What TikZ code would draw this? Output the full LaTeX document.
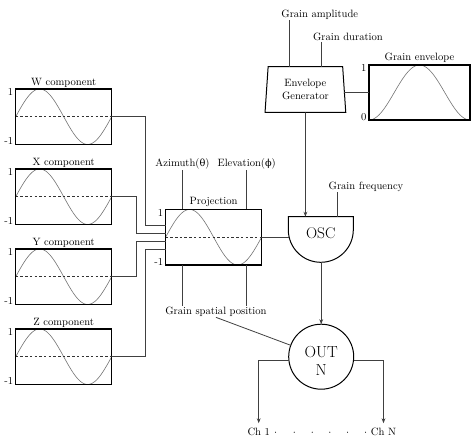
\documentclass[tikz,border=0pt]{standalone}
\usepackage{fontspec}
\newfontfamily\grk{DejaVu Serif}[Scale=0.92]
\usetikzlibrary{arrows.meta,shapes.geometric,calc}
\begin{document}
\begin{tikzpicture}[x=1pt,y=-1pt,
  lbl/.style={font=\fontsize{10.6}{13.3}\selectfont, inner sep=1pt, outer sep=0pt},
  box/.style={draw=black, line width=1.2pt, minimum width=96pt, minimum height=55.5pt, inner sep=0pt, outer sep=0pt},
  wave/.style={draw=black!55, line width=0.6pt},
  midline/.style={draw=black!80, line width=0.7pt, dash pattern=on 2.5pt off 2.2pt},
  conn/.style={draw=black!75, line width=0.8pt},
  arr/.style={conn, -{Stealth[length=5pt,width=3.8pt]}},
  blk/.style={draw=black, line width=1pt},
  big/.style={font=\fontsize{15.5}{18.3}\selectfont, inner sep=0pt, align=center}
]
\useasboundingbox (0,0) rectangle (474,445);

% ---- component boxes ----
\foreach \n/\yy in {W/116.7, X/196.7, Y/276.7, Z/356.7} {
  \draw[wave] plot[domain=0:96, samples=90, smooth] ({15.7+\x},{\yy-27.75*sin(3.75*\x)});
  \node[box] (\n) at (63.7,\yy) {};
  \draw[midline] (\n.west) -- (\n.east);
  \node[lbl, anchor=base] (\n lab) at (63.7,\yy-31.7) {\n\ component};
  \node[lbl, anchor=east] (\n one) at ([xshift=-1.5pt,yshift=-3.3pt]\n.north west) {1};
  \node[lbl, anchor=east] (\n mone) at ([xshift=-1.5pt,yshift=3pt]\n.south west) {-1};
}

% ---- projection ----
\draw[wave] plot[domain=0:96, samples=90, smooth] ({165.6+\x},{237.2-27.75*sin(3.75*\x)});
\node[box] (proj) at (213.6,237.2) {};
\draw[midline] (proj.west) -- (proj.east);
\node[lbl, anchor=base] (projlab) at (213.6,204.5) {Projection};
\node[lbl, anchor=east] (projone) at ([xshift=-1.5pt,yshift=-3.3pt]proj.north west) {1};
\node[lbl, anchor=east] (projmone) at ([xshift=-1.5pt,yshift=3pt]proj.south west) {-1};

\node[lbl, anchor=base] (az) at (182.5,166.7) {Azimuth({\grk θ})};
\node[lbl, anchor=base] (el) at (246.7,166.7) {Elevation({\grk ϕ})};
\node[lbl, anchor=base] (gsp) at (216,314.3) {Grain spatial position};

\draw[conn] (az.south) -- (az.south |- proj.north);
\draw[conn] (el.south) -- (el.south |- proj.north);
\draw[conn] (az.south |- proj.south) -- (az.south |- gsp.north);
\draw[conn] (el.south |- proj.south) -- (el.south |- gsp.north);

% component connectors
\draw[conn] (W.east) -| ([xshift=-20.5pt,yshift=12pt]proj.west) -- ([yshift=12pt]proj.west);
\draw[conn] (X.east) -| ([xshift=-29.5pt,yshift=4pt]proj.west) -- ([yshift=4pt]proj.west);
\draw[conn] (Y.east) -| ([xshift=-29.5pt,yshift=-4pt]proj.west) -- ([yshift=-4pt]proj.west);
\draw[conn] (Z.east) -| ([xshift=-20.5pt,yshift=-12pt]proj.west) -- ([yshift=-12pt]proj.west);

% ---- envelope generator ----
\node[trapezium, blk, trapezium left angle=81.6, trapezium right angle=81.6,
      trapezium stretches body, minimum width=80.7pt, minimum height=45.6pt,
      inner sep=0pt, outer sep=0pt, align=center,
      font=\fontsize{10.6}{13.3}\selectfont] (eg) at (305.4,89.5) {Envelope\\Generator};
\node[lbl, anchor=base] (ga) at (319.8,17.3) {Grain amplitude};
\node[lbl, anchor=base] (gd) at (348,40.7) {Grain duration};
\coordinate (egA) at (289.3,66.7);
\coordinate (egD) at (321,66.7);
\draw[conn] (egA |- ga.south) -- (egA);
\draw[conn] (egD |- gd.south) -- (egD);

% ---- grain envelope box ----
\draw[wave] plot[domain=0:1, samples=80, smooth] ({369+101*\x},{120-55*(1-cos(360*\x))/2});
\node[draw=black, line width=1.2pt, minimum width=101pt, minimum height=55pt, inner sep=0pt, outer sep=0pt] (env) at (419.5,92.5) {};
\node[lbl, anchor=base] (envlab) at (419.5,60.7) {Grain envelope};
\node[lbl, anchor=east] (envone) at ([xshift=-1.5pt,yshift=-3.3pt]env.north west) {1};
\node[lbl, anchor=east] (envzero) at ([xshift=-1.5pt,yshift=3pt]env.south west) {0};
\draw[conn] (env.west -| eg.east) -- (env.west);

% ---- OSC ----
\draw[blk] (288.3,216.7) -- (353.3,216.7) -- (353.3,229.8)
  arc[start angle=0, end angle=-180, radius=32.5pt] -- cycle;
\node[big] (osc) at (320.8,233.5) {OSC};
\coordinate (oscIn) at (305.4,216.7);
\coordinate (oscFq) at (337.7,216.7);
\coordinate (oscW) at (289,237.2);
\coordinate (oscS) at (321.2,262.3);
\node[lbl, anchor=base] (gf) at (366,189.3) {Grain frequency};
\draw[conn] (oscFq |- gf.south) -- (oscFq);
\draw[arr] (eg.south) -- (oscIn);
\draw[conn] (proj.east) -- (oscW);

% ---- OUT ----
\node[circle, blk, minimum size=65pt, inner sep=0pt, outer sep=0pt] (out) at (321.2,356.7) {};
\node[font=\fontsize{16}{18.3}\selectfont, inner sep=0pt, align=center] (outtxt) at (321.2,361) {OUT\\N};
\draw[arr] (oscS) -- (oscS |- out.north);
\draw[conn] (gsp.south) -- (out);

\node[lbl, anchor=base, inner sep=5pt] (ch1) at (258.7,435.7) {Ch 1};
\node[lbl, anchor=base, inner sep=5pt] (chN) at (383.5,435.7) {Ch N};
\foreach \i/\xx in {1/275.7, 2/294.3, 3/312.3, 4/330, 5/347.7, 6/365.7} {
  \node[lbl, anchor=base] (dot\i) at (\xx,435.7) {$\cdot$};
}
\draw[arr] ([yshift=-4pt]out.west) -| (ch1.north);
\draw[arr] ([yshift=-4pt]out.east) -| (chN.north);
\end{tikzpicture}
\end{document}
